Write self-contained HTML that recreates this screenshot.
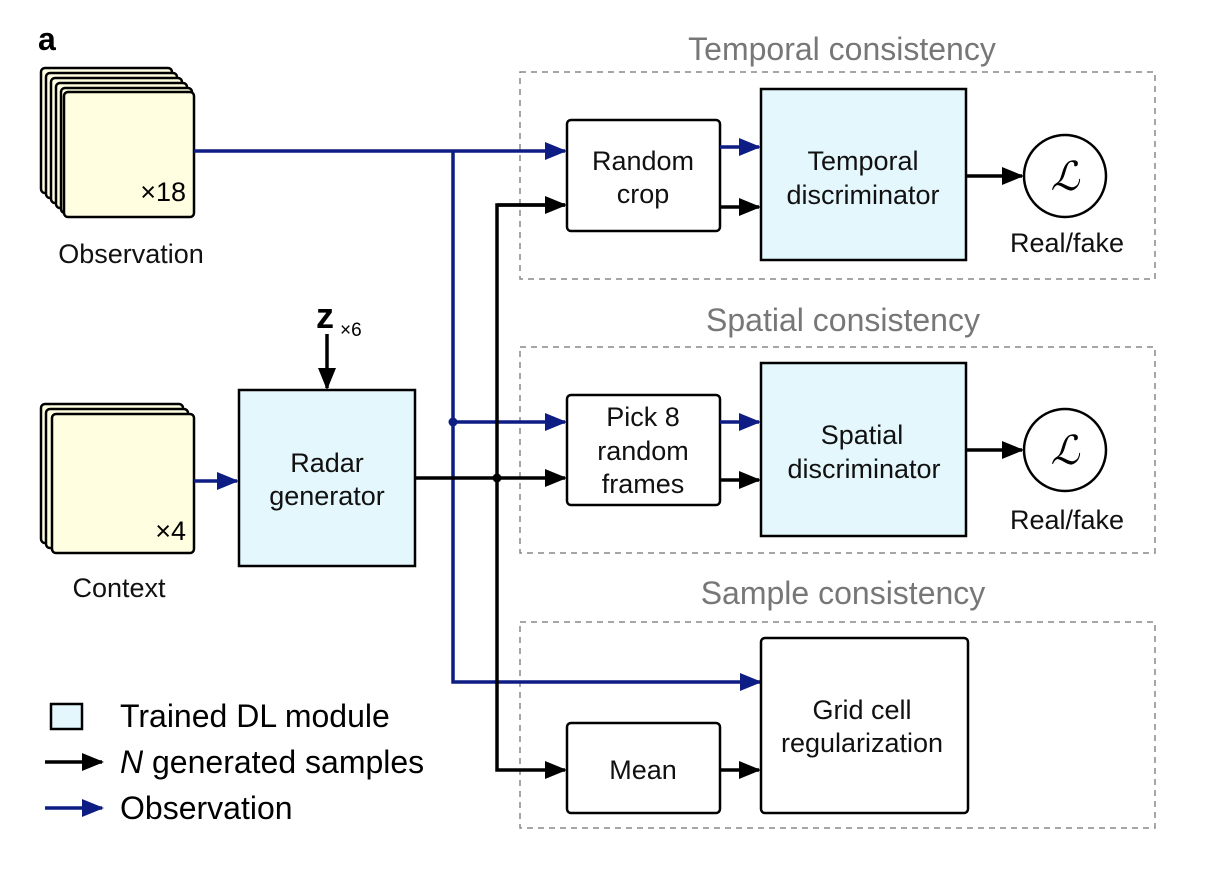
<!DOCTYPE html>
<html><head><meta charset="utf-8"><style>
html,body{margin:0;padding:0;background:#fff;}
svg{display:block;font-family:"Liberation Sans",Arial,sans-serif;}
</style></head><body>
<svg width="1206" height="884" viewBox="0 0 1206 884" xmlns="http://www.w3.org/2000/svg">
<defs>
<marker id="ab" markerWidth="22" markerHeight="18" refX="20" refY="9" orient="auto" markerUnits="userSpaceOnUse" viewBox="0 0 22 18"><path d="M0,0 L22,9 L0,18 z" fill="#000"/></marker>
<marker id="au" markerWidth="22" markerHeight="18" refX="20" refY="9" orient="auto" markerUnits="userSpaceOnUse" viewBox="0 0 22 18"><path d="M0,0 L22,9 L0,18 z" fill="#0d1d84"/></marker>
</defs>
<style>
.b{stroke:#000;stroke-width:3.5;fill:none}
.u{stroke:#0d1d84;stroke-width:3.5;fill:none}
.box{fill:#fff;stroke:#000;stroke-width:2.5}
.dl{fill:#e4f7fc;stroke:#000;stroke-width:2.5}
.st{fill:#fffee0;stroke:#000;stroke-width:2.5}
.dash{fill:none;stroke:#888;stroke-width:1.5;stroke-dasharray:6,5}
.t{font-size:27px;fill:#111;text-anchor:middle}
.h{font-size:32px;fill:#777;text-anchor:middle}
.L{font-size:40px;font-style:italic;font-family:"Liberation Serif",serif;text-anchor:middle}
</style>
<text x="38" y="50" font-size="32" font-weight="bold">a</text>
<rect class="st" x="41" y="68" width="131" height="125" rx="4"/>
<rect class="st" x="46" y="73" width="131" height="125" rx="4"/>
<rect class="st" x="51" y="78" width="131" height="125" rx="4"/>
<rect class="st" x="56" y="83" width="131" height="125" rx="4"/>
<rect class="st" x="61" y="88" width="131" height="125" rx="4"/>
<rect class="st" x="64" y="92" width="130" height="125" rx="4"/>
<text x="186" y="201" font-size="27" text-anchor="end">×18</text>
<text x="131" y="263" class="t">Observation</text>
<rect class="st" x="41" y="404" width="142" height="139" rx="4"/>
<rect class="st" x="46" y="409" width="142" height="139" rx="4"/>
<rect class="st" x="52" y="414" width="142" height="139" rx="4"/>
<text x="186" y="540" font-size="27" text-anchor="end">×4</text>
<text x="119" y="597" class="t">Context</text>
<rect class="dash" x="520" y="72" width="635" height="207"/>
<rect class="dash" x="520" y="347" width="635" height="206"/>
<rect class="dash" x="520" y="622" width="635" height="206"/>
<text x="842" y="60" class="h">Temporal consistency</text>
<text x="843" y="331" class="h">Spatial consistency</text>
<text x="843" y="604" class="h">Sample consistency</text>
<path class="u" d="M194,151 H565" marker-end="url(#au)"/>
<path class="u" d="M453,151 V682 H760" marker-end="url(#au)"/>
<path class="u" d="M453,422 H565" marker-end="url(#au)"/>
<circle cx="453" cy="422" r="4.5" fill="#0d1d84"/>
<path class="b" d="M565,205 H497 V770 H565" marker-end="url(#ab)"/>
<path class="b" d="M497,205 H565" marker-end="url(#ab)"/>
<path class="b" d="M415,478 H565" marker-end="url(#ab)"/>
<circle cx="497" cy="478" r="4.5" fill="#000"/>
<path class="u" d="M194,481 H237" marker-end="url(#au)"/>
<path class="b" d="M327,334 V388" marker-end="url(#ab)"/>
<text x="316" y="328" font-size="36" font-weight="bold">z</text>
<text x="340" y="336" font-size="19">×6</text>
<rect class="dl" x="239" y="390" width="176" height="176"/>
<text x="327" y="472" class="t">Radar</text>
<text x="327" y="505" class="t">generator</text>
<rect class="box" x="567" y="120" width="153" height="111" rx="4"/>
<text x="643" y="170" class="t">Random</text>
<text x="643" y="203" class="t">crop</text>
<path class="u" d="M720,147 H759" marker-end="url(#au)"/>
<path class="b" d="M720,207 H759" marker-end="url(#ab)"/>
<rect class="dl" x="761" y="89" width="205" height="171"/>
<text x="863" y="170" class="t">Temporal</text>
<text x="863" y="204" class="t">discriminator</text>
<path class="b" d="M966,176 H1022" marker-end="url(#ab)"/>
<circle cx="1065" cy="176" r="41" fill="#fff" stroke="#000" stroke-width="2.5"/>
<text x="1065" y="190" class="L">ℒ</text>
<text x="1067" y="252" class="t">Real/fake</text>
<rect class="box" x="567" y="395" width="153" height="110" rx="4"/>
<text x="643" y="426" class="t">Pick 8</text>
<text x="643" y="460" class="t">random</text>
<text x="643" y="493" class="t">frames</text>
<path class="u" d="M720,422 H759" marker-end="url(#au)"/>
<path class="b" d="M720,480 H759" marker-end="url(#ab)"/>
<rect class="dl" x="761" y="363" width="205" height="173"/>
<text x="862" y="444" class="t">Spatial</text>
<text x="864" y="478" class="t">discriminator</text>
<path class="b" d="M966,450 H1022" marker-end="url(#ab)"/>
<circle cx="1065" cy="450" r="41" fill="#fff" stroke="#000" stroke-width="2.5"/>
<text x="1065" y="464" class="L">ℒ</text>
<text x="1067" y="529" class="t">Real/fake</text>
<rect class="box" x="567" y="723" width="153" height="90" rx="4"/>
<text x="643" y="779" class="t">Mean</text>
<path class="b" d="M720,770 H759" marker-end="url(#ab)"/>
<rect class="box" x="761" y="638" width="207" height="175" rx="4"/>
<text x="862" y="719" class="t">Grid cell</text>
<text x="862" y="752" class="t">regularization</text>
<rect class="dl" x="51" y="704" width="31" height="25" stroke-width="3"/>
<text x="120" y="727" font-size="32">Trained DL module</text>
<path class="b" d="M45,762 H102" marker-end="url(#ab)"/>
<text x="120" y="773" font-size="32"><tspan font-style="italic">N</tspan> generated samples</text>
<path class="u" d="M45,808 H102" marker-end="url(#au)"/>
<text x="120" y="819" font-size="32">Observation</text>
</svg>
</body></html>
